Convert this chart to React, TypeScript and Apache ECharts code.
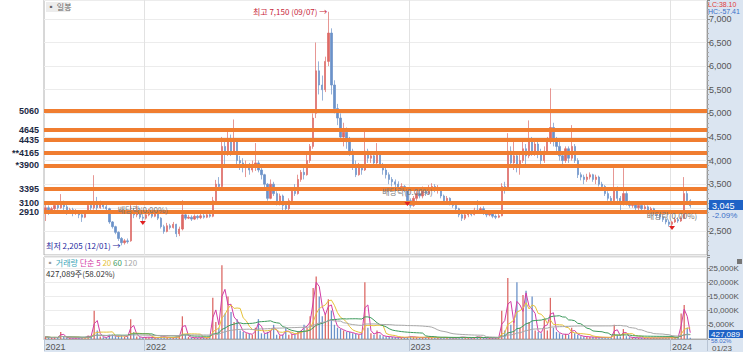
import React, { useEffect, useRef } from 'react';
import * as echarts from 'echarts';

// [open, close, low, high] sampled every 3 trading days
const ohlc: number[][] = [
  [2950,3000,2720,3080],[3000,2900,2850,3050],[2900,2980,2880,3020],[2980,3050,2950,3100],[3050,3000,2960,3120],
  [3000,3100,2980,3290],[3100,3020,2940,3150],[3020,2900,2850,3060],[2900,2960,2880,3000],[2960,2880,2820,3000],
  [2880,2920,2850,2970],[2920,2850,2780,2950],[2850,2800,2700,2880],[2800,2900,2780,2950],[2900,3050,2880,3080],
  [3050,3000,2950,3100],[3000,3080,2960,3690],[3080,3000,2950,3230],[3000,3060,2980,3150],[3060,3020,2980,3100],
  [3020,2980,2950,3060],[2980,2700,2660,3000],[2700,2600,2560,2720],[2600,2480,2440,2620],[2480,2350,2300,2500],
  [2350,2260,2205,2380],[2260,2300,2220,2340],[2300,2280,2240,2350],[2300,2900,2280,3100],[2900,2850,2780,3000],
  [2850,2950,2800,3050],[2950,2800,2760,3000],[2800,2780,2700,2860],[2780,2850,2750,2950],[2850,2900,2820,2980],
  [2900,2820,2780,2960],[2820,2880,2800,2950],[2880,2780,2740,2900],[2780,2600,2560,2800],[2600,2500,2450,2640],
  [2500,2620,2480,2680],[2620,2580,2540,2660],[2580,2650,2560,2700],[2650,2450,2380,2660],[2450,2550,2400,2600],
  [2550,2850,2520,3160],[2850,2780,2740,2900],[2780,2800,2760,2850],[2800,2760,2720,2840],[2760,2820,2740,2860],
  [2820,2790,2750,2850],[2790,2830,2760,2880],[2830,2800,2770,2880],[2800,2850,2780,2900],[2850,2820,2790,2900],
  [2820,3150,2800,3230],[3150,3500,3100,3590],[3500,3450,3400,3650],[3450,4300,3420,4500],[4300,4150,3900,4400],
  [4150,4450,4100,4640],[4450,4200,4100,4550],[4200,4400,4150,4870],[4400,4000,3850,4450],[4000,3950,3800,4100],
  [3950,3850,3750,4050],[3850,3900,3650,4000],[3900,3800,3700,3950],[3800,3900,3750,4000],[3900,3950,3780,4370],
  [3950,3800,3750,4000],[3800,3700,3600,3850],[3700,3500,3400,3720],[3500,3200,3150,3520],[3200,3500,3180,3600],
  [3500,3300,3250,3550],[3300,3100,3050,3350],[3100,3250,3050,3300],[3250,3050,2950,3280],[3050,2980,2900,3100],
  [2980,3150,2950,3200],[3150,3350,3100,3400],[3350,3300,3250,3500],[3300,3600,3280,3700],[3600,3750,3550,3800],
  [3750,3700,3600,3850],[3700,4000,3680,4150],[4000,4300,3950,4350],[4300,4900,4250,5000],[5000,5900,4900,6500],
  [5900,5600,5400,6100],[5600,5500,5270,5800],[5500,6100,5450,6200],[6100,6700,6000,7150],[6700,5600,5400,6800],
  [5600,5100,5000,5700],[5100,4900,4750,5200],[4900,4500,4400,5000],[4500,4600,4300,4800],[4600,4400,4250,4700],
  [4400,4200,4100,4500],[4200,3900,3800,4250],[3900,3700,3650,4000],[3700,3850,3680,3950],[3850,3800,3700,3900],
  [3800,4200,3780,4680],[4200,4050,3950,4250],[4050,4100,3950,4200],[4100,3950,3880,4150],[3950,4150,3900,4370],
  [4150,3900,3850,4200],[3900,3800,3700,3950],[3800,3700,3620,3850],[3700,3600,3500,3750],[3600,3550,3450,3650],
  [3550,3500,3400,3600],[3500,3420,3380,3560],[3420,3450,3370,3520],[3450,3380,3330,3480],[3380,3150,3100,3400],
  [3150,3050,3000,3200],[3050,3200,3020,3250],[3200,3300,3150,3350],[3300,3250,3200,3400],[3250,3350,3200,3450],
  [3350,3300,3250,3420],[3300,3400,3280,3480],[3400,3450,3350,3520],[3450,3380,3330,3500],[3380,3400,3300,3480],
  [3400,3250,3200,3420],[3250,3150,3100,3280],[3150,3200,3100,3250],[3200,3080,3050,3220],[3080,3050,3000,3120],
  [3050,2980,2950,3080],[2980,2850,2800,3000],[2850,2780,2720,2900],[2780,2850,2740,2880],[2850,2900,2800,2950],
  [2900,2860,2820,2950],[2860,2950,2840,3000],[2950,2920,2880,3160],[2920,2980,2900,3020],[2980,2900,2850,3030],
  [2900,2850,2800,2950],[2850,2880,2820,2920],[2880,2820,2780,2900],[2820,2800,2760,2860],[2800,2830,2780,2870],
  [2830,3450,2820,3520],[3450,3400,3300,3550],[3400,4200,3380,4580],[4200,3950,3850,4300],[3950,4100,3800,4430],
  [4100,3850,3750,4200],[3850,4000,3700,4150],[4000,4250,3950,4400],[4250,4100,3850,4350],[4100,4400,4050,4850],
  [4400,4200,4100,4500],[4200,4350,4100,4450],[4350,4150,4050,4450],[4150,4000,3900,4250],[4000,4200,3950,4300],
  [4200,4400,4150,4500],[4400,4700,4350,5530],[4700,4450,4300,4800],[4450,4300,4200,4500],[4300,4100,4000,4400],
  [4100,4000,3900,4200],[4000,4250,3950,4300],[4250,4050,3950,4300],[4050,4300,4000,4750],[4300,4000,3950,4350],
  [4000,3700,3630,4050],[3700,3650,3580,3750],[3650,3600,3500,3700],[3600,3650,3550,3720],[3650,3700,3600,3750],
  [3700,3600,3550,3720],[3600,3650,3500,3700],[3650,3500,3450,3680],[3500,3450,3380,3550],[3450,3300,3250,3480],
  [3300,3200,3150,3350],[3200,3150,3080,3250],[3150,3400,3100,3840],[3400,3200,3100,3450],[3200,3100,2950,3250],
  [3100,3300,3050,3840],[3300,3100,3050,3350],[3100,3050,3000,3150],[3050,3080,3000,3120],[3080,3000,2950,3100],
  [3000,3050,2950,3080],[3050,2980,2950,3080],[2980,3020,2960,3060],[3020,2950,2900,3050],[2950,2980,2920,3020],
  [2980,2900,2850,3000],[2900,2850,2800,2920],[2850,2800,2750,2880],[2800,2750,2700,2830],[2750,2700,2650,2780],
  [2700,2650,2600,2750],[2650,2700,2590,2720],[2700,2750,2680,2800],[2750,2720,2680,2800],[2720,2780,2700,2820],
  [2780,3300,2760,3650],[3300,3150,3100,3400],[3150,3045,3000,3180],
];

// volume in thousands of shares
const volumes: number[] = [
  800,500,400,600,500,2500,700,400,350,300,400,350,500,600,1200,700,10000,3000,900,600,
  500,1500,1200,900,1100,1400,800,700,7000,2500,900,600,500,700,600,500,450,400,900,700,
  600,500,450,800,700,8000,1500,700,500,450,400,500,450,400,600,14500,6000,4000,26000,9000,
  15000,9500,6000,7000,3000,2500,2000,1800,1500,4000,7000,2000,1800,2500,3000,5000,1500,1200,1500,4000,
  1500,1800,1500,2500,3000,5000,4000,8000,18000,22000,15000,8000,9000,14000,10000,5000,4000,3500,3000,2500,
  2500,2000,1800,1500,2000,20000,4000,2000,1500,3000,1500,1000,900,800,700,600,600,500,500,700,
  900,700,600,500,600,500,700,600,500,450,500,600,500,450,400,450,600,700,500,450,
  400,500,900,500,450,400,350,400,350,400,10000,3000,21500,5000,6500,20000,4000,15500,17000,6000,
  15000,3000,2500,2000,7000,3000,14500,4000,2500,2000,1500,1800,1500,4000,2000,1500,1000,900,800,700,
  700,600,600,500,600,500,600,5000,1500,900,3500,1000,600,500,450,400,400,350,400,350,
  400,350,400,450,400,500,600,500,450,9000,12000,4000,427,
];

const levelValues = [5060, 4645, 4435, 4165, 3900, 3395, 3100, 2910];
const levelLabels = ['5060', '4645', '4435', '**4165', '*3900', '3395', '3100', '2910'];
// 3,000 is hidden behind the current-price box in the reference
const priceTicks = [2500, 3500, 4000, 4500, 5000, 5500, 6000, 6500, 7000];
const volumeTicks = [5000, 10000, 15000, 20000, 25000];
const maPeriods = ['5', '20', '60', '120'];
const maWindows = [2, 7, 20, 40];
const maColors = ['#d23ca6', '#e6c23a', '#3d9a5c', '#a8a8a8'];
const exDivIdx = [32, 119, 206];

const UP = '#dc6a66';
const DOWN = '#6b92c9';
const PAD = 5;

function buildCats(n: number): string[] {
  const out: string[] = [];
  const d = new Date(2021, 7, 18);
  let k = 0;
  while (out.length < n) {
    const day = d.getDay();
    if (day !== 0 && day !== 6) {
      if (k % 3 === 0) {
        const mm = String(d.getMonth() + 1).padStart(2, '0');
        const dd = String(d.getDate()).padStart(2, '0');
        out.push(`${d.getFullYear()}/${mm}/${dd}`);
      }
      k++;
    }
    d.setDate(d.getDate() + 1);
  }
  return out;
}

const cats = buildCats(ohlc.length + PAD);
const isYearStart = (i: number) => i === 0 || (cats[i] && cats[i - 1] && cats[i].slice(0, 4) !== cats[i - 1].slice(0, 4));

function movingAvg(arr: number[], n: number): number[] {
  return arr.map((_, i) => {
    const s = Math.max(0, i - n + 1);
    let sum = 0;
    for (let j = s; j <= i; j++) sum += arr[j];
    return Math.round(sum / (i - s + 1));
  });
}

const FONT = 'Liberation Sans, Arial, sans-serif';
const KFONT = 'Noto Sans CJK KR, sans-serif';

export default function App() {
  const ref = useRef<HTMLDivElement>(null);
  useEffect(() => {
    if (!ref.current) return;
    const chart = echarts.init(ref.current, null, { renderer: 'svg' });
    const volData = volumes.map((v, i) => ({
      value: v,
      itemStyle: { color: ohlc[i][1] >= ohlc[i][0] ? UP : DOWN },
    }));
    const maSeries = maWindows.map((w, k) => ({
      type: 'line',
      name: 'MA' + maPeriods[k],
      xAxisIndex: 1,
      yAxisIndex: 1,
      data: movingAvg(volumes, w),
      symbol: 'none',
      lineStyle: { width: 1, color: maColors[k] },
      z: 3,
    }));
    const option: any = {
      animation: false,
      grid: [
        { left: 44, right: 36, top: 0, height: 255, show: true, borderColor: '#b0b0b0', borderWidth: 1 },
        { left: 44, right: 36, top: 257, height: 82, show: true, borderColor: '#b0b0b0', borderWidth: 1 },
      ],
      xAxis: [
        {
          type: 'category', gridIndex: 0, data: cats, boundaryGap: true,
          axisLabel: { show: false }, axisTick: { show: false }, axisLine: { show: false },
          splitLine: { show: true, interval: (i: number) => isYearStart(i) && i > 0, lineStyle: { color: '#e2e2e2' } },
        },
        {
          type: 'category', gridIndex: 1, data: cats, boundaryGap: true,
          axisLine: { show: true, lineStyle: { color: '#aaa' } },
          axisTick: { show: true, interval: (i: number) => isYearStart(i), length: 12, lineStyle: { color: '#b8c4d4' } },
          axisLabel: {
            show: true, interval: (i: number) => isYearStart(i), formatter: (v: string) => v.slice(0, 4),
            align: 'left', margin: 3, fontSize: 9, color: '#555', fontFamily: FONT,
          },
          splitLine: { show: true, interval: (i: number) => isYearStart(i) && i > 0, lineStyle: { color: '#e2e2e2' } },
        },
      ],
      yAxis: [
        {
          type: 'value', gridIndex: 0, position: 'right', min: 2000, max: 7400, interval: 500,
          axisLine: { show: true, lineStyle: { color: '#999' } },
          axisTick: { show: true, length: 3, lineStyle: { color: '#888' } },
          minorTick: { show: true, splitNumber: 5, length: 2, lineStyle: { color: '#aaa' } },
          axisLabel: {
            fontSize: 9, color: '#555', fontFamily: FONT, margin: 2,
            formatter: (v: number) => (priceTicks.includes(v) ? v.toLocaleString('en-US') : ''),
          },
          splitLine: { show: true, lineStyle: { color: '#ececec' } },
        },
        {
          type: 'value', gridIndex: 1, position: 'right', min: 0, max: 28900, interval: 5000,
          axisLine: { show: true, lineStyle: { color: '#999' } },
          axisTick: { show: true, length: 3, lineStyle: { color: '#888' } },
          axisLabel: {
            fontSize: 8, color: '#555', fontFamily: FONT, margin: 2,
            formatter: (v: number) => (volumeTicks.includes(v) ? v.toLocaleString('en-US') + 'K' : ''),
          },
          splitLine: { show: true, lineStyle: { color: '#ececec' } },
        },
      ],
      series: [
        {
          type: 'candlestick',
          xAxisIndex: 0, yAxisIndex: 0,
          data: ohlc,
          barWidth: 1.8,
          itemStyle: { color: UP, color0: DOWN, borderColor: UP, borderColor0: DOWN, borderWidth: 0.7 },
          markLine: {
            silent: true, symbol: ['none', 'none'], animation: false,
            lineStyle: { color: '#f07d30', width: 4, type: 'solid' },
            label: { show: true, position: 'start', distance: 5, fontSize: 9, fontWeight: 'bold', color: '#1c2a44', fontFamily: FONT },
            data: levelValues.map((v, i) => ({ yAxis: v, label: { formatter: levelLabels[i] } })),
          },
          markPoint: {
            silent: true, animation: false,
            data: [
              {
                coord: [cats[93], 7150], symbol: 'rect', symbolSize: 0.1, itemStyle: { color: 'rgba(0,0,0,0)' },
                label: { show: true, position: 'left', distance: 1, formatter: '최고 7,150 (09/07) →', color: '#c8283c', fontSize: 8, fontFamily: KFONT },
              },
              {
                coord: [cats[25], 2205], symbol: 'rect', symbolSize: 0.1, itemStyle: { color: 'rgba(0,0,0,0)' },
                label: { show: true, position: 'left', distance: 1, formatter: '최저 2,205 (12/01) →', color: '#1e2aa0', fontSize: 8, fontFamily: KFONT },
              },
              ...exDivIdx.map((idx) => ({
                coord: [cats[idx], ohlc[idx][2] - 20], symbol: 'triangle', symbolRotate: 180, symbolSize: [6, 4],
                itemStyle: { color: '#e02020' },
                label: { show: true, position: 'top', distance: 7, formatter: '배당락(0.00%)', color: '#777', fontSize: 8, fontFamily: KFONT },
              })),
            ],
          },
          z: 2,
        },
        {
          type: 'bar', xAxisIndex: 1, yAxisIndex: 1, data: volData, barWidth: 1.3, z: 2,
        },
        ...maSeries,
      ],
      graphic: [
        { type: 'rect', left: 46, top: 2, shape: { width: 24, height: 10 }, style: { fill: '#ececec' }, z: 10 },
        { type: 'text', left: 47, top: 2, style: { text: '▪ 일봉', fill: '#666', font: `8px ${KFONT}` }, z: 11 },
        { type: 'text', left: 708, top: 1, style: { text: 'LC:38.10', fill: '#e03c3c', font: `7px ${FONT}` }, z: 11 },
        { type: 'text', left: 708, top: 8, style: { text: 'HC:-57.41', fill: '#3a6fc8', font: `7px ${FONT}` }, z: 11 },
        { type: 'rect', left: 709, top: 200, shape: { width: 34, height: 10 }, style: { fill: '#1f63c6' }, z: 10 },
        { type: 'text', left: 712, top: 201, style: { text: '3,045', fill: '#fff', font: `9px ${FONT}` }, z: 11 },
        { type: 'text', left: 712, top: 211, style: { text: '-2.09%', fill: '#3a6fc8', font: `8px ${FONT}` }, z: 11 },
        { type: 'rect', left: 709, top: 330, shape: { width: 34, height: 8 }, style: { fill: '#1f63c6' }, z: 10 },
        { type: 'text', left: 711, top: 330, style: { text: '427,089', fill: '#fff', font: `8px ${FONT}` }, z: 11 },
        { type: 'text', left: 711, top: 338, style: { text: '58.02%', fill: '#3a6fc8', font: `6px ${FONT}` }, z: 11 },
        { type: 'text', left: 712, top: 344, style: { text: '01/23', fill: '#555', font: `8px ${FONT}` }, z: 11 },
        { type: 'rect', left: 737, top: 259, shape: { width: 5, height: 5 }, style: { fill: '#777' }, z: 11 },
        {
          type: 'text', left: 46, top: 258, z: 11,
          style: {
            text: '{g|▪} {a|거래량} {b|단순 5} {c|20} {d|60} {e|120}',
            font: `8px ${KFONT}`,
            rich: {
              g: { fill: '#999', font: `8px ${KFONT}` },
              a: { fill: '#3aa6b8', font: `8px ${KFONT}` },
              b: { fill: maColors[0], font: `8px ${KFONT}` },
              c: { fill: maColors[1], font: `8px ${KFONT}` },
              d: { fill: maColors[2], font: `8px ${KFONT}` },
              e: { fill: maColors[3], font: `8px ${KFONT}` },
            },
          },
        },
        { type: 'text', left: 46, top: 269, z: 11, style: { text: '427,089주(58.02%)', fill: '#333', font: `8px ${KFONT}` } },
      ],
    };
    chart.setOption(option);
    return () => chart.dispose();
  }, []);
  return (
    <div style={{ position: 'fixed', left: 0, top: 0, width: 743, height: 352, background: '#fff' }}>
      <div style={{ position: 'absolute', left: 707, top: 0, width: 36, height: 352, background: '#dbe5f1' }} />
      <div style={{ position: 'absolute', left: 44, top: 340, width: 699, height: 12, background: '#dbe5f1' }} />
      <div ref={ref} style={{ position: 'absolute', left: 0, top: 0, width: 743, height: 352 }} />
    </div>
  );
}
